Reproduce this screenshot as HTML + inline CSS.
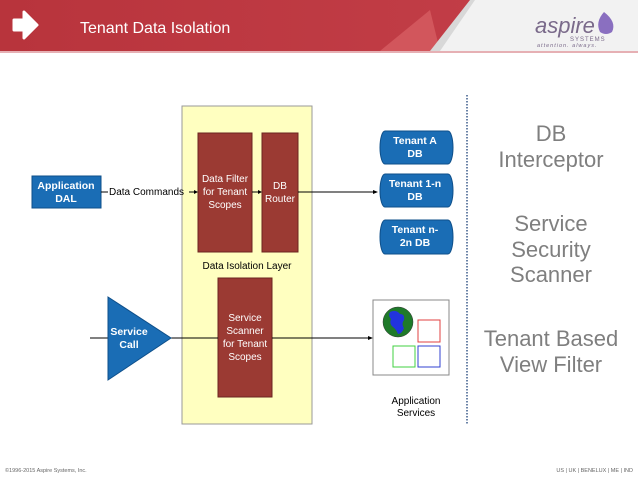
<!DOCTYPE html>
<html><head><meta charset="utf-8"><style>
body{margin:0;width:638px;height:478px;overflow:hidden;background:#fff;font-family:"Liberation Sans",sans-serif}
</style></head><body>
<svg width="638" height="478" viewBox="0 0 638 478" xmlns="http://www.w3.org/2000/svg" font-family="Liberation Sans, sans-serif">
<defs>
<linearGradient id="hg" x1="0" x2="1" y1="0" y2="0">
<stop offset="0" stop-color="#b8343c"/><stop offset="1" stop-color="#c5404a"/></linearGradient>
</defs>
<rect x="0" y="0" width="638" height="51" fill="url(#hg)"/>
<polygon points="380,51 430,10 440,51" fill="#d2565c"/>
<polygon points="470,0 638,0 638,51 430,51" fill="#d8d8d8"/>
<polygon points="475,0 638,0 638,51 440,51" fill="#f2f2f2"/>
<rect x="0" y="51" width="638" height="2" fill="#e6b0b4"/>
<path d="M14,20 h10 v-8 l13,13 l-13,13 v-8 h-10 z" fill="#fff" stroke="#fff" stroke-width="3" stroke-linejoin="round"/>
<text x="80" y="33" font-size="16" fill="#fff">Tenant Data Isolation</text>
<text x="535" y="33" font-size="22" fill="#7a6a8a" font-style="italic">aspire</text>
<path d="M604,12 q-9,10 -4,20 q6,4 12,0 q5,-10 -8,-20z" fill="#8a6fc0"/>
<text x="570" y="41" font-size="6" fill="#7a6a8a" letter-spacing="1">SYSTEMS</text>
<text x="537" y="47" font-size="5.5" fill="#7a6a8a" font-style="italic" letter-spacing="1">attention. always.</text>

<rect x="182" y="106" width="130" height="318" fill="#ffffc0" stroke="#999" stroke-width="1"/>
<rect x="198" y="133" width="54" height="119" fill="#9b3a33" stroke="#6b2420"/>
<rect x="262" y="133" width="36" height="119" fill="#9b3a33" stroke="#6b2420"/>
<rect x="218" y="278" width="54" height="119" fill="#9b3a33" stroke="#6b2420"/>
<g fill="#fff" font-size="10" text-anchor="middle">
<text x="225" y="182">Data Filter</text><text x="225" y="195">for Tenant</text><text x="225" y="208">Scopes</text>
<text x="280" y="189">DB</text><text x="280" y="202">Router</text>
<text x="245" y="321">Service</text><text x="245" y="334">Scanner</text><text x="245" y="347">for Tenant</text><text x="245" y="360">Scopes</text>
</g>
<text x="247" y="269" font-size="10" text-anchor="middle" fill="#000">Data Isolation Layer</text>

<rect x="32" y="176" width="69" height="32" fill="#1a6db5" stroke="#0e4f8a"/>
<g fill="#fff" font-size="10.5" font-weight="bold" text-anchor="middle">
<text x="66" y="189">Application</text><text x="66" y="202">DAL</text></g>
<line x1="101" y1="192" x2="108" y2="192" stroke="#000"/>
<text x="109" y="195" font-size="10" fill="#000">Data Commands</text>
<line x1="189" y1="192" x2="196" y2="192" stroke="#000"/>
<polygon points="198,192 194,190 194,194" fill="#000"/>
<line x1="252" y1="192" x2="258" y2="192" stroke="#000"/>
<polygon points="262,192 258,190 258,194" fill="#000"/>
<line x1="298" y1="192" x2="374" y2="192" stroke="#000"/>
<polygon points="378,192 373,190 373,194" fill="#000"/>

<g fill="#1a6db5" stroke="#0e4f8a">
<path d="M385,131 h63 a5,16.5 0 0 1 0,33 h-63 a5,16.5 0 0 1 0,-33z"/>
<path d="M385,174 h63 a5,16.5 0 0 1 0,33 h-63 a5,16.5 0 0 1 0,-33z"/>
<path d="M385,220 h63 a5,17 0 0 1 0,34 h-63 a5,17 0 0 1 0,-34z"/>
</g>
<g fill="#fff" font-size="10.5" font-weight="bold" text-anchor="middle">
<text x="415" y="144">Tenant A</text><text x="415" y="157">DB</text>
<text x="415" y="187">Tenant 1-n</text><text x="415" y="200">DB</text>
<text x="415" y="233">Tenant n-</text><text x="415" y="246">2n DB</text>
</g>

<line x1="90" y1="338" x2="218" y2="338" stroke="#000"/>
<polygon points="108,297 171,338 108,380" fill="#1a6db5" stroke="#0e4f8a"/>
<g fill="#fff" font-size="10.5" font-weight="bold" text-anchor="middle">
<text x="129" y="335">Service</text><text x="129" y="348">Call</text></g>
<line x1="272" y1="338" x2="368" y2="338" stroke="#000"/>
<polygon points="373,338 368,336 368,340" fill="#000"/>

<rect x="373" y="300" width="76" height="75" fill="#fff" stroke="#888"/>
<circle cx="398" cy="322" r="15" fill="#1f7a2a" stroke="#333" stroke-width="0.5"/>
<path d="M390,312 q6,-3 10,2 q5,0 4,6 q-3,4 0,8 q-2,6 -6,6 q-2,-5 -5,-7 q-4,-3 -2,-8 q-3,-3 -1,-7z" fill="#2233dd"/>
<rect x="418" y="320" width="22" height="22" fill="none" stroke="#e04040"/>
<rect x="393" y="346" width="22" height="21" fill="none" stroke="#40d040"/>
<rect x="418" y="346" width="22" height="21" fill="none" stroke="#3040d0"/>
<g fill="#000" font-size="10" text-anchor="middle">
<text x="416" y="404">Application</text><text x="416" y="416">Services</text></g>

<line x1="467" y1="95" x2="467" y2="425" stroke="#3a5a8a" stroke-width="1.5" stroke-dasharray="1.5,1.5"/>
<g fill="#7f7f7f" font-size="22" text-anchor="middle">
<text x="551" y="141">DB</text><text x="551" y="167">Interceptor</text>
<text x="551" y="231">Service</text><text x="551" y="257">Security</text><text x="551" y="282">Scanner</text>
<text x="551" y="346">Tenant Based</text><text x="551" y="372">View Filter</text>
</g>
<text x="5" y="472" font-size="5.5" fill="#666">©1996-2015 Aspire Systems, Inc.</text>
<text x="633" y="472" font-size="5.5" fill="#666" text-anchor="end">US | UK | BENELUX | ME | IND</text>
</svg>
</body></html>
